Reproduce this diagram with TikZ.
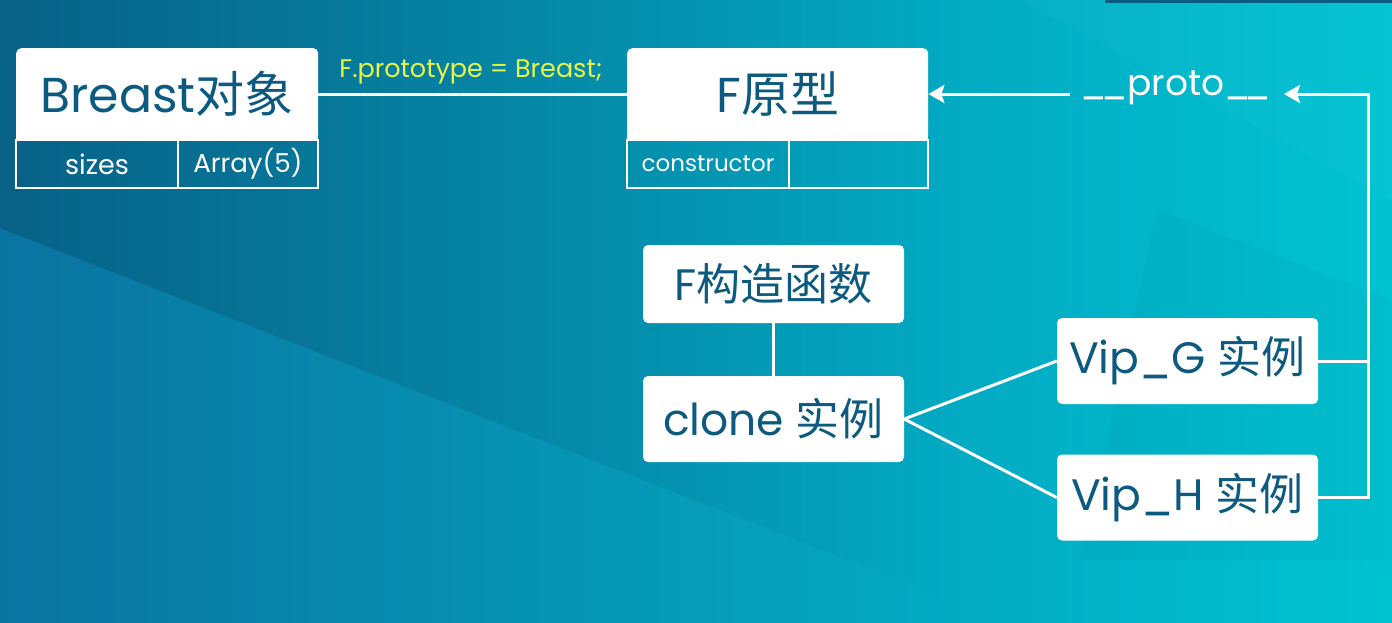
\documentclass[tikz,border=0pt]{standalone}
\usepackage{fontspec}
\setmainfont{Poppins}
\newfontfamily\cjk{Noto Sans CJK SC}
\usetikzlibrary{arrows.meta,fadings}
\definecolor{bgL}{HTML}{0A74A1}
\definecolor{bgR}{HTML}{00C3D2}
\definecolor{txt}{HTML}{0D5A80}
\definecolor{ylw}{HTML}{E8F545}
\tikzset{
  x=1pt, y=-1pt,
  whitebox/.style={fill=white, rounded corners=5pt, inner sep=0pt, text=txt},
  cellbox/.style={draw=white, line width=2.5pt, inner sep=0pt, text=white},
  conn/.style={draw=white, line width=3pt},
  tip/.style={-{Stealth[length=16pt,width=18pt,inset=3pt]}},
}
\newcommand{\us}{\_\kern-0.17em}
\begin{document}
\begin{tikzpicture}
\useasboundingbox (0,0) rectangle (1392,622);
% background
\shade[left color=bgL, right color=bgR] (0,0) rectangle (1392,622);
\fill[black, opacity=0.16, path fading=east] (0,0) -- (950,0) -- (950,600) -- (0,228) -- cycle;
\fill[white, opacity=0.025] (1020,0) -- (1392,0) -- (1392,200) -- cycle;
\fill[black, opacity=0.025] (1157,210) -- (1392,300) -- (1392,560) -- (1080,560) -- cycle;
\fill[bgL!80!black] (1105,0) rectangle (1392,3);

% Breast object
\node[whitebox, minimum width=302pt, minimum height=92pt, anchor=north west,
      font=\fontsize{49}{52}\selectfont] (breast) at (16,48) {Breast{\cjk 对象}};
\fill[white] (16,128) rectangle (318,140);
\node[cellbox, minimum width=162pt, minimum height=48pt, font=\fontsize{27}{30}\selectfont] (sizes) at (97,164) {sizes};
\node[cellbox, minimum width=140pt, minimum height=48pt, font=\fontsize{26}{30}\selectfont] (arr) at (248,164) {Array(5)};

% F prototype
\node[whitebox, minimum width=301pt, minimum height=92pt, anchor=north west,
      font=\fontsize{49}{52}\selectfont] (fproto) at (627,48) {F{\cjk 原型}};
\fill[white] (627,128) rectangle (928,140);
\node[cellbox, minimum width=162pt, minimum height=48pt, font=\fontsize{23}{26}\selectfont] (ctor) at (708,164) {constructor};
\node[cellbox, minimum width=139pt, minimum height=48pt] (empty) at (858.5,164) {};

% link Breast - F prototype
\draw[conn] (breast.east) -- (fproto.west);
\node[text=ylw, font=\fontsize{25.5}{28}\selectfont] (lbl) at (471,72) {F.prototype = Breast;};

% __proto__
\node[text=white, font=\fontsize{36}{40}\selectfont] (proto) at (1176,88) {\us\_proto\us\_};
\coordinate (pL) at (1070,94);
\coordinate (pR) at (1284,94);
\coordinate (corner) at (1368,94);
\draw[conn, tip] (pL) -- (fproto.east |- pL);

% constructor, clone, instances
\node[whitebox, minimum width=261pt, minimum height=78pt, font=\fontsize{44}{48}\selectfont] (fcons) at (773.5,284) {F{\cjk 构造函数}};
\node[whitebox, minimum width=261pt, minimum height=86pt, font=\fontsize{44}{48}\selectfont] (clone) at (773.5,419) {clone {\cjk 实例}};
\node[whitebox, minimum width=261pt, minimum height=86pt, font=\fontsize{44}{48}\selectfont] (vipg) at (1187.5,361) {Vip\_G {\cjk 实例}};
\node[whitebox, minimum width=261pt, minimum height=86pt, font=\fontsize{44}{48}\selectfont] (viph) at (1187.5,497.5) {Vip\_H {\cjk 实例}};

\draw[conn] (fcons.south) -- (clone.north);
\draw[conn] (clone.east) -- (vipg.west);
\draw[conn] (clone.east) -- (viph.west);
\draw[conn] (vipg.east) -- (vipg.east -| corner);
\draw[conn, tip] (viph.east) -| (corner) -- (pR);
\end{tikzpicture}
\end{document}
